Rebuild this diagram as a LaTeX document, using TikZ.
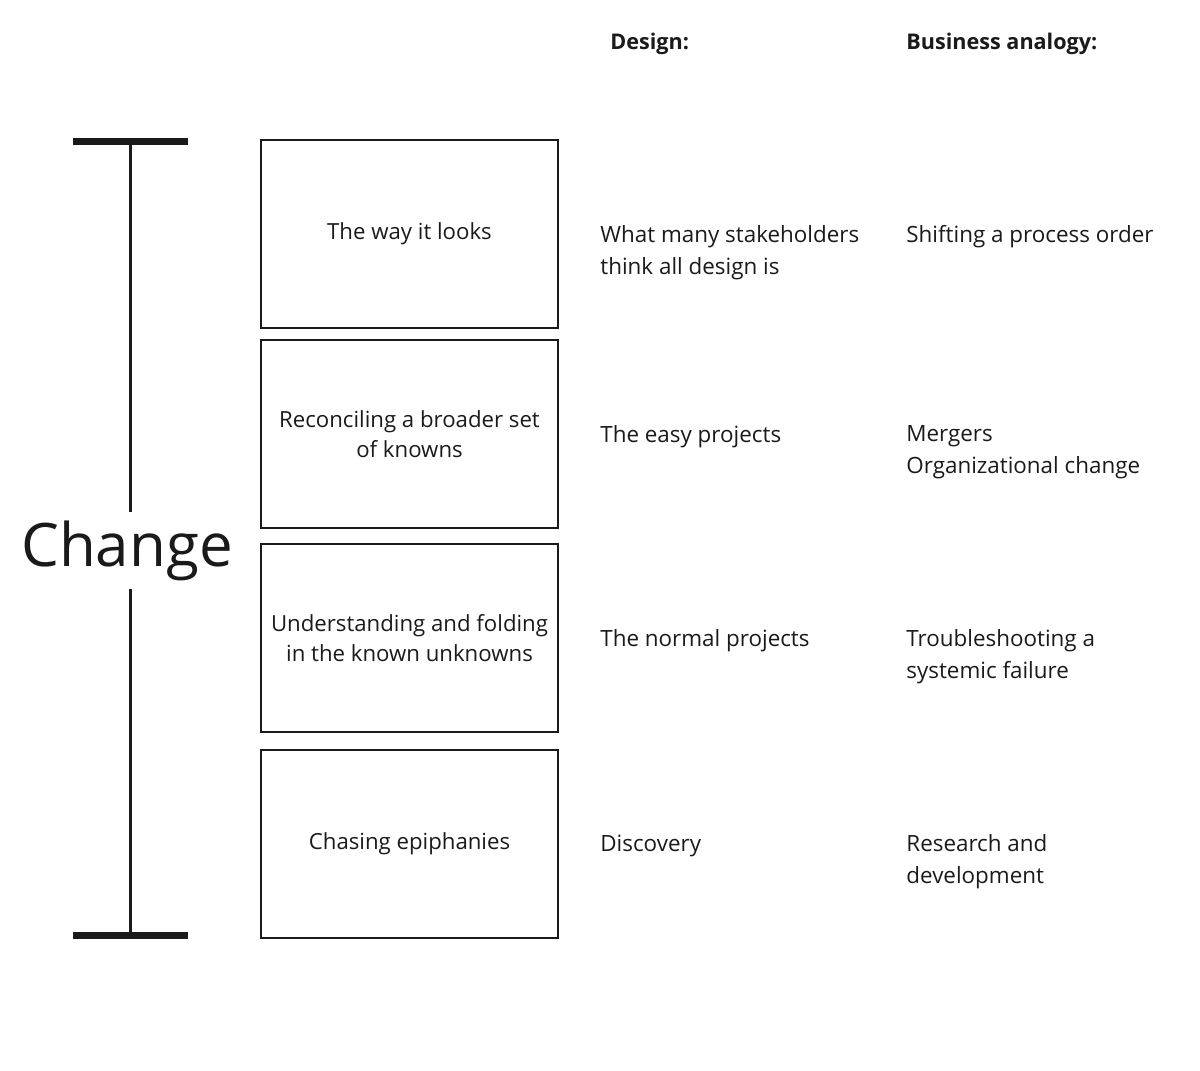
\documentclass[tikz,border=0pt]{standalone}
\usepackage{fontspec}
\setmainfont{Open Sans}
\definecolor{ink}{HTML}{1A1A1A}
\begin{document}
\begin{tikzpicture}[x=0.5pt, y=-0.5pt, color=ink,
  tier/.style={rectangle, draw, line width=1pt, minimum width=148.5pt,
               minimum height=94pt, align=center,
               font=\fontsize{11.1}{15}\selectfont},
  col/.style={anchor=north west, inner sep=0pt, align=left,
              font=\fontsize{11.2}{16}\selectfont},
  head/.style={anchor=west, inner sep=0pt,
               font=\fontsize{10.8}{13}\selectfont\bfseries},
  bar/.style={line width=3.5pt},
  axis/.style={line width=1.5pt}
]
  \useasboundingbox (0,0) rectangle (1200,1071);

  % Headers
  \node[head] (hdsg) at (610,44) {Design:};
  \node[head] (hbiz) at (906,44) {Business analogy:};

  % Scale of change
  \coordinate (top) at (130,141.5);
  \coordinate (bot) at (130,935.5);
  \draw[bar] (73,141.5) -- (188,141.5);
  \draw[bar] (73,935.5) -- (188,935.5);
  \node[anchor=base, inner sep=4pt, font=\fontsize{30}{36}\selectfont]
    (change) at (127,566) {Change};
  \draw[axis] (top) -- (top |- change.north);
  \draw[axis] (bot |- change.south) -- (bot);

  % Tiers
  \foreach \n/\y/\tier/\dsg/\biz in {
    1/234/{The way it looks}/{What many stakeholders\\think all design is}/{Shifting a process order},
    2/434/{Reconciling a broader set\\of knowns}/{The easy projects}/{Mergers\\Organizational change},
    3/638/{Understanding and folding\\in the known unknowns}/{The normal projects}/{Troubleshooting a\\systemic failure},
    4/843.5/{Chasing epiphanies}/{Discovery}/{Research and\\development}} {
    \node[tier] (tier\n) at (409.5,\y) {\tier};
    \node[col] (dsg\n) at (600,\y-9) {\dsg};
    \node[col] (biz\n) at (906,\y-9) {\biz};
  }
\end{tikzpicture}
\end{document}
